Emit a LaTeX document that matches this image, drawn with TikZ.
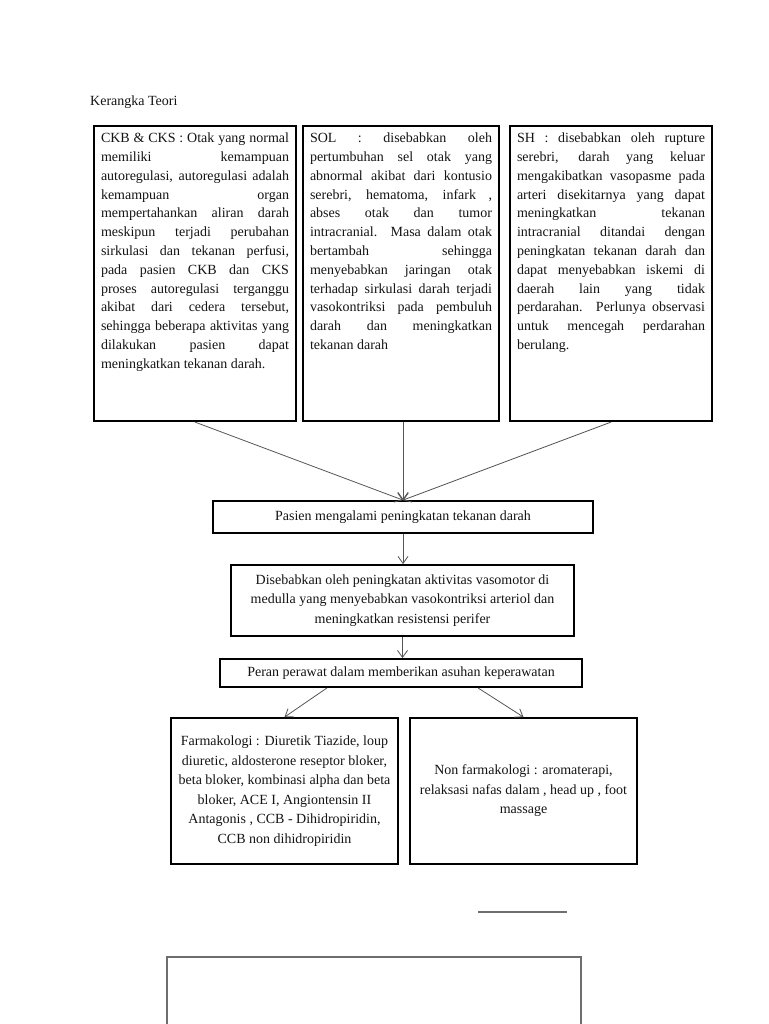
\documentclass[tikz,border=0pt]{standalone}
\usepackage{fontspec}
\setmainfont{Liberation Serif}
\usepackage{xcolor}
\usepackage{tikz}
\usetikzlibrary{
  arrows.meta,
  positioning
}
\definecolor{inkcolor}{HTML}{141414}
\definecolor{arrowcolor}{HTML}{555555}
\definecolor{framecolor}{HTML}{6E6E6E}
\newcommand{\boxtext}[2]{\parbox[t][281pt][t]{#1}{%
  \tolerance=10000\hbadness=10000\hyphenpenalty=10000 #2}}

\begin{document}
\begin{tikzpicture}[
  x=1pt, y=-1pt,
  every node/.style={text=inkcolor},
  textbox/.style={draw, line width=2.2pt, inner xsep=0pt, inner ysep=6pt,
                  minimum height=295pt, font=\fontsize{14}{18.8}\selectfont},
  flowbox/.style={draw, line width=1.8pt, align=center, inner sep=0pt,
                  font=\fontsize{14}{19.5}\selectfont},
  arrow/.style={-{Straight Barb[length=7pt, width=10pt]}, line width=0.8pt,
                arrowcolor},
  title/.style={font=\fontsize{14}{16}\selectfont, anchor=west, inner xsep=0pt},
]
  \useasboundingbox[fill=white] (0,0) rectangle (768,1024);

  \node[title] (title) at (90,102) {Kerangka Teori};

  % Penyebab
  \node[textbox, minimum width=202pt] (ckb) at (195,273.5) {\boxtext{188pt}{%
    CKB \& CKS : Otak yang normal\linebreak
    memiliki kemampuan\linebreak
    autoregulasi, autoregulasi adalah\linebreak
    kemampuan organ\linebreak
    mempertahankan aliran darah\linebreak
    meskipun terjadi perubahan\linebreak
    sirkulasi dan tekanan perfusi,\linebreak
    pada pasien CKB dan CKS\linebreak
    proses autoregulasi terganggu\linebreak
    akibat dari cedera tersebut,\linebreak
    sehingga beberapa aktivitas yang\linebreak
    dilakukan pasien dapat\linebreak
    meningkatkan tekanan darah.}};
  \node[textbox, minimum width=196pt] (sol) at (401,273.5) {\boxtext{182pt}{%
    SOL : disebabkan oleh\linebreak
    pertumbuhan sel otak yang\linebreak
    abnormal akibat dari kontusio\linebreak
    serebri, hematoma, infark ,\linebreak
    abses otak dan tumor\linebreak
    intracranial. Masa dalam otak\linebreak
    bertambah sehingga\linebreak
    menyebabkan jaringan otak\linebreak
    terhadap sirkulasi darah terjadi\linebreak
    vasokontriksi pada pembuluh\linebreak
    darah dan meningkatkan\linebreak
    tekanan darah}};
  \node[textbox, minimum width=202pt] (sh) at (611,273.5) {\boxtext{188pt}{%
    SH : disebabkan oleh rupture\linebreak
    serebri, darah yang keluar\linebreak
    mengakibatkan vasopasme pada\linebreak
    arteri disekitarnya yang dapat\linebreak
    meningkatkan tekanan\linebreak
    intracranial ditandai dengan\linebreak
    peningkatan tekanan darah dan\linebreak
    dapat menyebabkan iskemi di\linebreak
    daerah lain yang tidak\linebreak
    perdarahan. Perlunya observasi\linebreak
    untuk mencegah perdarahan\linebreak
    berulang.}};

  % Alur
  \node[flowbox, minimum width=380pt, minimum height=32pt] (pasien) at (403,517)
    {Pasien mengalami peningkatan tekanan darah};
  \node[flowbox, minimum width=343pt, minimum height=71pt] (sebab) at (402.5,600.5)
    {Disebabkan oleh peningkatan aktivitas vasomotor di\\
     medulla yang menyebabkan vasokontriksi arteriol dan\\
     meningkatkan resistensi perifer};
  \node[flowbox, minimum width=362pt, minimum height=28pt] (peran) at (401,673)
    {Peran perawat dalam memberikan asuhan keperawatan};
  \node[flowbox, minimum width=227pt, minimum height=146pt] (farmako) at (284.5,791)
    {Farmakologi : Diuretik Tiazide, loup\\
     diuretic, aldosterone reseptor bloker,\\
     beta bloker, kombinasi alpha dan beta\\
     bloker, ACE I, Angiontensin II\\
     Antagonis , CCB - Dihidropiridin,\\
     CCB non dihidropiridin};
  \node[flowbox, minimum width=227pt, minimum height=146pt] (nonfarmako) at (523.5,791)
    {Non farmakologi : aromaterapi,\\
     relaksasi nafas dalam , head up , foot\\
     massage};

  \draw[arrow] (ckb.south) -- (pasien.north);
  \draw[arrow] (pasien.north |- sol.south) -- (pasien.north);
  \draw[arrow] (sh.south) -- (pasien.north);
  \draw[arrow] (pasien.south) -- (pasien.south |- sebab.north);
  \draw[arrow] (sebab.south) -- (sebab.south |- peran.north);
  \draw[arrow] ([xshift=-74pt]peran.south) -- (farmako.north);
  \draw[arrow] ([xshift=77pt]peran.south) -- (nonfarmako.north);

  % Bawah
  \draw[framecolor, line width=1.2pt] (478,912) -- (567,912);
  \draw[framecolor, line width=1.2pt] (167,957) rectangle (581,1040);

\end{tikzpicture}
\end{document}
